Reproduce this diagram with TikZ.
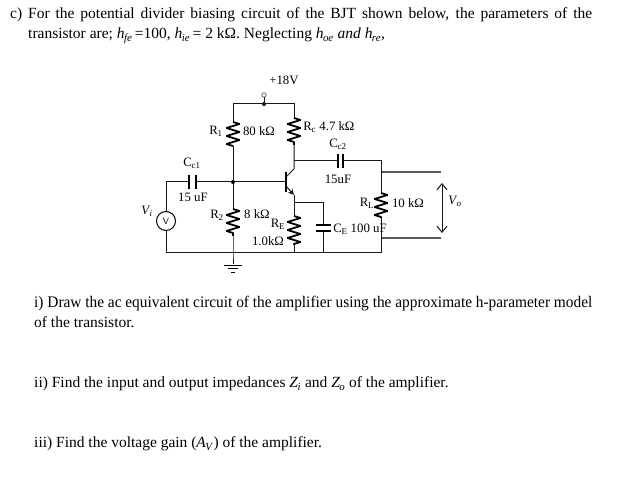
\documentclass[tikz,border=0pt]{standalone}
\usepackage{graphicx}
\usepackage{fontspec}
\setmainfont{Liberation Serif}
\usetikzlibrary{arrows.meta,decorations.pathmorphing}
\newcommand{\lsub}[1]{\kern-0.3pt\textsubscript{#1}}
\newcommand{\isub}[2]{\textit{#1}\kern-0.6pt\textsubscript{\textit{#2}}}
\tikzset{
	wire/.style={line width=1pt, black!90},
	pt/.style={circle, fill=black, inner sep=0, minimum size=4pt},
	rstor/.style={line width=1.8pt, black, line join=bevel, decorate, decoration={zigzag, segment length=8pt, amplitude=6.5pt}},
	vplate/.style={fill=black, inner sep=0, minimum width=1.2pt, minimum height=14pt},
	hplate/.style={fill=black, inner sep=0, minimum width=15pt, minimum height=1.8pt},
	lbl/.style={inner sep=0, font=\fontsize{12.8}{14}\selectfont},
	txt/.style={inner sep=0, anchor=base west, font=\fontsize{15.5}{17}\selectfont},
}
\begin{document}
\begin{tikzpicture}[x=1pt, y=-1pt]
	\useasboundingbox (0,0) rectangle (641,502);
	% question text
	\node (qa) at (10,19) [txt] {\makebox[582pt][s]{c) For the potential divider biasing circuit of the BJT shown below, the parameters of the}};
	\node (qb) at (28,39) [txt] {transistor are; \isub{h}{fe}\,=100, \isub{h}{ie}\,= 2 kΩ. Neglecting \isub{h}{oe} \textit{and} \isub{h}{re},};
	\node (qc) at (34,308) [txt] {\resizebox{558pt}{!}{\scalebox{1}[1.05]{i) Draw the ac equivalent circuit of the amplifier using the approximate h-parameter model}}};
	\node (qd) at (34,328) [txt] {of the transistor.};
	\node (qe) at (34,388) [txt] {ii) Find the input and output impedances \isub{Z}{i} and \isub{Z}{o} of the amplifier.};
	\node (qf) at (34,448) [txt] {iii) Find the voltage gain (\isub{A}{V}) of the amplifier.};
	% circuit points
	\node (vcc) at (264,95) [circle, draw, inner sep=0, minimum size=4.5pt] {};
	\node (top) at (264,104) [pt] {};
	\node (base) at (233,182) [pt] {};
	\coordinate (topl) at (233,104);
	\coordinate (topr) at (294,104);
	\coordinate (ra) at (233,122);
	\coordinate (rb) at (233,146);
	\coordinate (rc) at (233,209);
	\coordinate (rd) at (233,236);
	\coordinate (re) at (294,118);
	\coordinate (rf) at (294,145);
	\coordinate (rg) at (294,216);
	\coordinate (rh) at (294,245);
	\coordinate (ri) at (381,193);
	\coordinate (rj) at (381,218);
	\coordinate (coll) at (294,161);
	\coordinate (emit) at (294,203);
	\coordinate (colb) at (294,169);
	\coordinate (emib) at (294,195);
	\coordinate (left) at (166,182);
	\coordinate (botl) at (166,253);
	\coordinate (botm) at (233,253);
	\coordinate (bote) at (294,253);
	\coordinate (botc) at (323,253);
	\coordinate (botr) at (381,253);
	\coordinate (outr) at (381,161);
	\coordinate (cet) at (323,203);
	\coordinate (oa) at (382,172);
	\coordinate (ob) at (441,172);
	\coordinate (oc) at (382,238);
	\coordinate (od) at (441,238);
	\coordinate (aa) at (442,183);
	\coordinate (ab) at (442,233);
	% parts
	\node (vsrc) at (166,221) [circle, draw, line width=1pt, inner sep=0, minimum size=19pt, font=\sffamily\small] {V};
	\node (cc1a) at (189,182) [vplate] {};
	\node (cc1b) at (196,182) [vplate] {};
	\node (cc2a) at (338,161) [vplate] {};
	\node (cc2b) at (343,161) [vplate] {};
	\node (cea) at (323,225) [hplate] {};
	\node (ceb) at (323,231) [hplate] {};
	\node (bar) at (286,182) [fill=black, inner sep=0, minimum width=2.6pt, minimum height=20pt] {};
	\node (gnd) at (233,265) [hplate, minimum width=18pt, minimum height=0.9pt] {};
	\node (gndb) at (233,268.5) [hplate, minimum width=10pt, minimum height=0.9pt] {};
	\node (gndc) at (233,272) [hplate, minimum width=4pt, minimum height=0.9pt] {};
	% wires
	\draw [wire] (vcc) -- (top);
	\draw [wire] (rb) -- (base) -- (rc);
	\draw [wire] (ra) -- (topl) -- (topr) -- (re);
	\draw [wire] (rf) -- (colb) -- (bar.center |- 0,177);
	\draw [wire] (coll) -- (cc2a);
	\draw [wire] (cc2b) -- (outr) -- (ri);
	\draw [wire] (rj) -- (botr) -- (botl) -- (vsrc.south);
	\draw [wire] (vsrc.north) -- (left) -- (cc1a);
	\draw [wire] (cc1b) -- (base) -- (bar);
	\draw [wire] (rd) -- (botm) -- (gnd);
	\draw [wire] (rh) -- (bote);
	\draw [wire] (rg) -- (emib);
	\draw [wire, -{Stealth[length=6pt, width=6pt]}] (bar.center |- 0,186) -- (emib);
	\draw [wire] (emit) -- (cet) -- (cea);
	\draw [wire] (ceb) -- (botc);
	\draw [line width=1.2pt, black!65] (oa) -- (ob);
	\draw [line width=1.2pt, black!65] (oc) -- (od);
	\draw [wire, {Straight Barb[length=6pt, width=10pt]}-{Straight Barb[length=6pt, width=10pt]}] (aa) -- (ab);
	% resistors
	\draw [rstor] (ra) -- (rb);
	\draw [rstor] (rc) -- (rd);
	\draw [rstor] (re) -- (rf);
	\draw [rstor] (rg) -- (rh);
	\draw [rstor] (ri) -- (rj);
	% labels
	\node (lvcc) at (284,80) [lbl] {+18V};
	\node (lra) at (216,131) [lbl] {R\lsub{1}};
	\node (lrav) at (259,131) [lbl] {80 kΩ};
	\node (lcca) at (192,163) [lbl] {C\lsub{c1}};
	\node (lccv) at (193,197) [lbl] {15 uF};
	\node (lvi) at (147,211) [lbl] {\isub{V}{i}};
	\node (lrb) at (217,215) [lbl] {R\lsub{2}};
	\node (lrbv) at (257,214) [lbl] {8 kΩ};
	\node (lre) at (278,224) [lbl] {R\lsub{E}};
	\node (lrev) at (268,241) [lbl] {1.0kΩ};
	\node (lrc) at (329,127) [lbl] {R\lsub{c} 4.7 kΩ};
	\node (lccb) at (338,144) [lbl] {C\lsub{c2}};
	\node (lcbv) at (338,179) [lbl] {15uF};
	\node (lrl) at (367,203) [lbl] {R\lsub{L}};
	\node (lrlv) at (408,203) [lbl] {10 kΩ};
	\node (lce) at (360,229) [lbl] {C\lsub{E} 100 uF};
	\node (lvo) at (455,201) [lbl] {\isub{V}{o}};
\end{tikzpicture}
\end{document}
